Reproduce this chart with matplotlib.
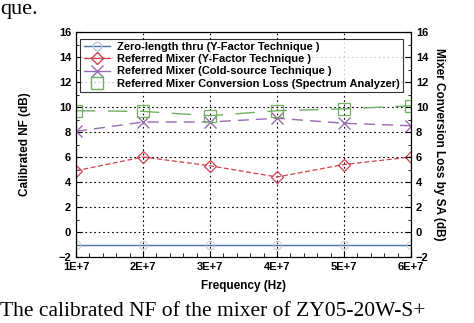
import numpy as np
import matplotlib
matplotlib.use('Agg')
import matplotlib.pyplot as plt
from matplotlib.ticker import MultipleLocator
from matplotlib.lines import Line2D

# 資料
freq = [1e7, 2e7, 3e7, 4e7, 5e7, 6e7]
zero_thru = [-1.0, -1.0, -1.0, -1.0, -1.0, -1.0]
mixer_yfactor = [4.9, 6.0, 5.3, 4.4, 5.4, 6.0]
mixer_cold = [8.05, 8.8, 8.8, 9.1, 8.7, 8.5]
conv_loss = [9.7, 9.65, 9.3, 9.7, 9.85, 10.1]
xtick_labels = ['1E+7', '2E+7', '3E+7', '4E+7', '5E+7', '6E+7']

plt.rcParams['font.family'] = ['Liberation Sans', 'DejaVu Sans']
plt.rcParams['font.weight'] = 'bold'

fig = plt.figure(figsize=(4.74, 3.23), dpi=100)
ax = fig.add_axes([76/474, 1-257/323, 335/474, 225/323])
ax2 = ax.twinx()

ax.plot(freq, zero_thru, color='#5070a8', lw=1.0, marker='o', ms=6,
        mfc='none', mec='#b8c8e0', mew=0.7)
ax.plot(freq, mixer_yfactor, color='#d04050', lw=0.9, ls=(0, (4, 2)),
        marker='D', ms=6, mfc='none', mec='#d04050', mew=0.9)
ax.plot(freq, mixer_cold, color='#9a6ab0', lw=1.0, ls=(0, (8, 5)),
        marker='x', ms=8, mec='#9a6ab0', mew=1.0)
ax2.plot(freq, conv_loss, color='#70b060', lw=1.0, ls=(0, (14, 9)),
         marker='s', ms=8, mfc='none', mec='#70b060', mew=0.9)

for a in (ax, ax2):
    a.set_ylim(-2, 16)
    a.yaxis.set_major_locator(MultipleLocator(2))
    a.yaxis.set_minor_locator(MultipleLocator(1))
    a.tick_params(labelsize=8, width=0.8, length=4)
ax.set_xlim(1e7, 6e7)
ax.set_xticks(freq)
ax.set_xticklabels(xtick_labels)
ax.xaxis.set_minor_locator(MultipleLocator(2e6))
ax.tick_params(which='both', direction='in')
ax.tick_params(axis='x', which='minor', length=3)
ax2.tick_params(which='both', direction='in')

ax.grid(True, which='major', ls=(0, (1.5, 2.5)), color='black', lw=0.8)

ax.set_xlabel('Frequency (Hz)', fontsize=8.5, fontweight='bold', labelpad=6)
ax.set_ylabel('Calibrated NF (dB)', fontsize=8.5, fontweight='bold', labelpad=20)
ax2.set_ylabel('Mixer Conversion Loss by SA (dB)', fontsize=8.5,
               fontweight='bold', rotation=270, labelpad=12)

handles = [
    Line2D([], [], color='#5070a8', lw=1.0, marker='o', ms=6, mfc='none', mec='#b8c8e0'),
    Line2D([], [], color='#d04050', lw=0.9, marker='D', ms=6, mfc='none', mec='#d04050'),
    Line2D([], [], color='#9a6ab0', lw=1.0, marker='x', ms=8, mec='#9a6ab0'),
    Line2D([], [], ls='none', marker='s', ms=8, mfc='none', mec='#70b060'),
]
labels = ['Zero-length thru (Y-Factor Technique )',
          'Referred Mixer (Y-Factor Technique )',
          'Referred Mixer (Cold-source Technique )',
          'Referred Mixer Conversion Loss (Spectrum Analyzer)']
leg = ax2.legend(handles, labels, loc='upper left', fontsize=8.0,
                 frameon=True, fancybox=False, edgecolor='black',
                 borderpad=0.3, labelspacing=0.2, handlelength=2.4,
                 handletextpad=0.6, borderaxespad=0.3,
                 bbox_to_anchor=(0.003, 0.985))
leg.get_frame().set_linewidth(0.8)

# 論文上下文字
fig.text(0.0, 1.0, 'que.', fontsize=16, family='Liberation Serif',
         fontweight='normal', va='top', ha='left')
fig.text(0.0, 0.005, 'The calibrated NF of the mixer of ZY05-20W-S+',
         fontsize=15.5, family='Liberation Serif', fontweight='normal',
         va='bottom', ha='left')

fig.savefig('out.png', dpi=100)
